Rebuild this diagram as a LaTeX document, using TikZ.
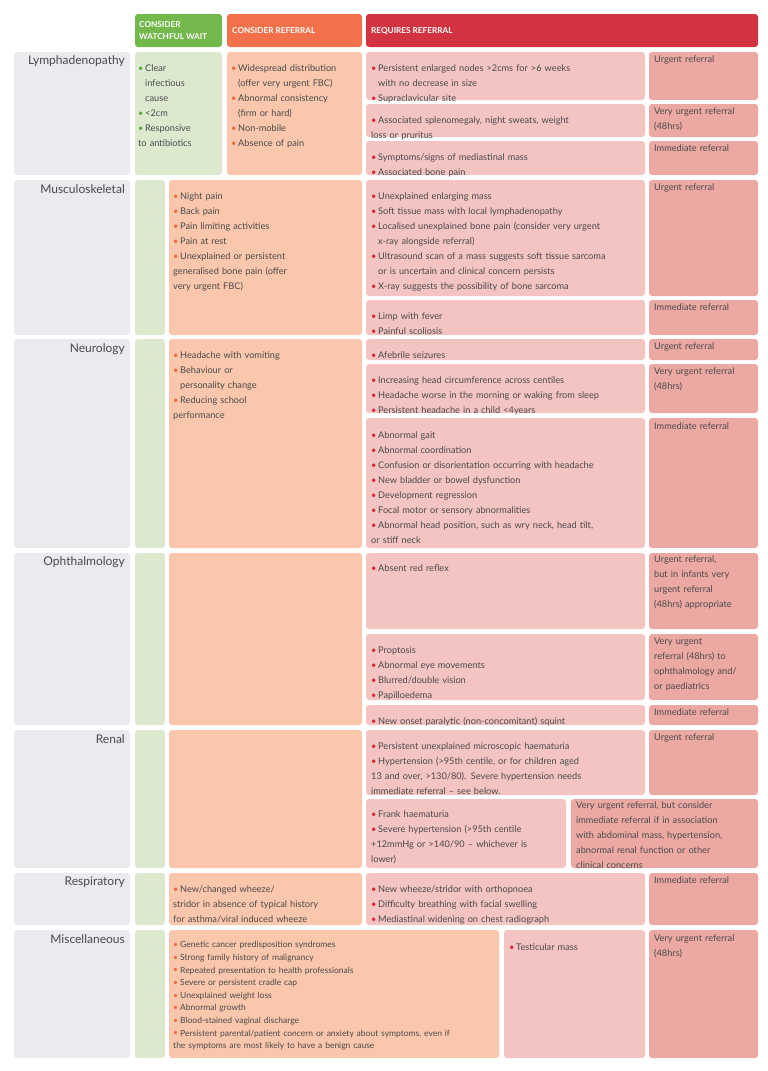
\documentclass[tikz,border=0pt]{standalone}
\usepackage{fontspec}
\setmainfont{Lato}
\definecolor{tx}{HTML}{4A4A4A}
\definecolor{lab}{HTML}{EAEAEF}
\definecolor{gh}{HTML}{72B84A}
\definecolor{gc}{HTML}{DCE9CF}
\definecolor{oh}{HTML}{F2714A}
\definecolor{oc}{HTML}{FAC6AC}
\definecolor{rh}{HTML}{D13440}
\definecolor{rc}{HTML}{F3C4C1}
\definecolor{rr}{HTML}{ECA9A3}
\definecolor{gd}{HTML}{5DAA3C}
\definecolor{od}{HTML}{EE6A3A}
\definecolor{rd}{HTML}{D4283A}
\newcommand\bul[2]{\par\hangindent=7pt\hangafter=1\noindent\makebox[7pt][l]{\textcolor{#1}{\raisebox{0.2pt}{\textbullet}}}#2}
\newcommand\cellbox[5]{\fill[#5,rounded corners=3pt] (#1,#2) rectangle (#3,#4);}
\tikzset{
 txt/.style={anchor=north west,inner sep=0pt,text width=300pt,align=left,text=tx,font=\fontsize{9.2}{15}\selectfont},
 lbl/.style={anchor=north east,inner sep=0pt,text=tx,font=\fontsize{12}{14}\selectfont},
 hdr/.style={anchor=west,inner sep=0pt,align=left,text=white,font=\bfseries\fontsize{8.2}{12}\selectfont},
}
\begin{document}
\begin{tikzpicture}[x=1pt,y=-1pt]
\useasboundingbox (0,0) rectangle (768,1071);
% headers
\cellbox{135}{14}{222}{47}{gh}
\cellbox{227}{14}{362}{47}{oh}
\cellbox{366}{14}{758}{47}{rh}
\node[hdr] (h1) at (139,31) {CONSIDER\\WATCHFUL WAIT};
\node[hdr] (h2) at (232,31) {CONSIDER REFERRAL};
\node[hdr] (h3) at (371,31) {REQUIRES REFERRAL};
% label column
\foreach \a/\b in {52/175,180/335,339/548,553/725,730/868,873/925,930/1058}{\cellbox{14}{\a}{130}{\b}{lab}}
\node[lbl] (l1) at (125,55) {Lymphadenopathy};
\node[lbl] (l2) at (125,184) {Musculoskeletal};
\node[lbl] (l3) at (125,343) {Neurology};
\node[lbl] (l4) at (125,556) {Ophthalmology};
\node[lbl] (l5) at (125,734) {Renal};
\node[lbl] (l6) at (125,877) {Respiratory};
\node[lbl] (l7) at (125,934) {Miscellaneous};
% green column
\cellbox{135}{52}{222}{175}{gc}
\foreach \a/\b in {180/335,339/548,553/725,730/868,873/925,930/1058}{\cellbox{135}{\a}{165}{\b}{gc}}
% orange column
\cellbox{227}{52}{362}{175}{oc}
\foreach \a/\b in {180/335,339/548,553/725,730/868,873/925}{\cellbox{169}{\a}{362}{\b}{oc}}
\cellbox{169}{930}{499}{1058}{oc}
% red cells
\foreach \a/\b in {52/100,104/137,141/175,180/296,300/335,339/360,364/413,418/548,553/629,634/700,705/725,730/795,873/925}{
 \cellbox{366}{\a}{645}{\b}{rc}\cellbox{649}{\a}{758}{\b}{rr}}
\cellbox{366}{799}{566}{868}{rc}
\cellbox{571}{799}{758}{868}{rr}
\cellbox{504}{930}{645}{1058}{rc}
\cellbox{649}{930}{758}{1058}{rr}
% lymph
\node[txt] (g1) at (138,56) {\bul{gd}{Clear\newline infectious\newline cause}\bul{gd}{<2cm}\bul{gd}{Responsive\newline to antibiotics}};
\node[txt] (o1) at (231,56) {\bul{od}{Widespread distribution\newline (offer very urgent FBC)}\bul{od}{Abnormal consistency\newline (firm or hard)}\bul{od}{Non-mobile}\bul{od}{Absence of pain}};
\node[txt] (r1a) at (371,56) {\bul{rd}{Persistent enlarged nodes >2cms for >6 weeks\newline with no decrease in size}\bul{rd}{Supraclavicular site}};
\node[txt] (r1b) at (371,108) {\bul{rd}{Associated splenomegaly, night sweats, weight\newline loss or pruritus}};
\node[txt] (r1c) at (371,145) {\bul{rd}{Symptoms/signs of mediastinal mass}\bul{rd}{Associated bone pain}};
\node[txt] (u1a) at (654,56) {Urgent referral};
\node[txt] (u1b) at (654,108) {Very urgent referral\newline (48hrs)};
\node[txt] (u1c) at (654,145) {Immediate referral};
% musculo
\node[txt] (o2) at (173,184) {\bul{od}{Night pain}\bul{od}{Back pain}\bul{od}{Pain limiting activities}\bul{od}{Pain at rest}\bul{od}{Unexplained or persistent\newline generalised bone pain (offer\newline very urgent FBC)}};
\node[txt] (r2a) at (371,184) {\bul{rd}{Unexplained enlarging mass}\bul{rd}{Soft tissue mass with local lymphadenopathy}\bul{rd}{Localised unexplained bone pain (consider very urgent\newline x-ray alongside referral)}\bul{rd}{Ultrasound scan of a mass suggests soft tissue sarcoma\newline or is uncertain and clinical concern persists}\bul{rd}{X-ray suggests the possibility of bone sarcoma}};
\node[txt] (r2b) at (371,304) {\bul{rd}{Limp with fever}\bul{rd}{Painful scoliosis}};
\node[txt] (u2a) at (654,184) {Urgent referral};
\node[txt] (u2b) at (654,304) {Immediate referral};
% neuro
\node[txt] (o3) at (173,343) {\bul{od}{Headache with vomiting}\bul{od}{Behaviour or\newline personality change}\bul{od}{Reducing school\newline performance}};
\node[txt] (r3a) at (371,343) {\bul{rd}{Afebrile seizures}};
\node[txt] (r3b) at (371,368) {\bul{rd}{Increasing head circumference across centiles}\bul{rd}{Headache worse in the morning or waking from sleep}\bul{rd}{Persistent headache in a child <4years}};
\node[txt] (r3c) at (371,423) {\bul{rd}{Abnormal gait}\bul{rd}{Abnormal coordination}\bul{rd}{Confusion or disorientation occurring with headache}\bul{rd}{New bladder or bowel dysfunction}\bul{rd}{Development regression}\bul{rd}{Focal motor or sensory abnormalities}\bul{rd}{Abnormal head position, such as wry neck, head tilt,\newline or stiff neck}};
\node[txt] (u3a) at (654,343) {Urgent referral};
\node[txt] (u3b) at (654,368) {Very urgent referral\newline (48hrs)};
\node[txt] (u3c) at (654,423) {Immediate referral};
% ophth
\node[txt] (r4a) at (371,556) {\bul{rd}{Absent red reflex}};
\node[txt] (r4b) at (371,638) {\bul{rd}{Proptosis}\bul{rd}{Abnormal eye movements}\bul{rd}{Blurred/double vision}\bul{rd}{Papilloedema}};
\node[txt] (r4c) at (371,709) {\bul{rd}{New onset paralytic (non-concomitant) squint}};
\node[txt] (u4a) at (654,556) {Urgent referral,\newline but in infants very\newline urgent referral\newline (48hrs) appropriate};
\node[txt] (u4b) at (654,638) {Very urgent\newline referral (48hrs) to\newline ophthalmology and/\newline or paediatrics};
\node[txt] (u4c) at (654,709) {Immediate referral};
% renal
\node[txt] (r5a) at (371,734) {\bul{rd}{Persistent unexplained microscopic haematuria}\bul{rd}{Hypertension (>95th centile, or for children aged\newline 13 and over, >130/80). Severe hypertension needs\newline immediate referral -- see below.}};
\node[txt] (r5b) at (371,802) {\bul{rd}{Frank haematuria}\bul{rd}{Severe hypertension (>95th centile}\par\noindent+12mmHg or >140/90 -- whichever is\newline lower)};
\node[txt] (u5a) at (654,734) {Urgent referral};
\node[txt] (u5b) at (576,802) {Very urgent referral, but consider\newline immediate referral if in association\newline with abdominal mass, hypertension,\newline abnormal renal function or other\newline clinical concerns};
% resp
\node[txt] (o6) at (173,877) {\bul{od}{New/changed wheeze/\newline stridor in absence of typical history\newline for asthma/viral induced wheeze}};
\node[txt] (r6) at (371,877) {\bul{rd}{New wheeze/stridor with orthopnoea}\bul{rd}{Difficulty breathing with facial swelling}\bul{rd}{Mediastinal widening on chest radiograph}};
\node[txt] (u6) at (654,877) {Immediate referral};
% misc
\node[txt,font=\fontsize{8.5}{12.6}\selectfont] (o7) at (173,935) {\bul{od}{Genetic cancer predisposition syndromes}\bul{od}{Strong family history of malignancy}\bul{od}{Repeated presentation to health professionals}\bul{od}{Severe or persistent cradle cap}\bul{od}{Unexplained weight loss}\bul{od}{Abnormal growth}\bul{od}{Blood-stained vaginal discharge}\bul{od}{Persistent parental/patient concern or anxiety about symptoms, even if\newline the symptoms are most likely to have a benign cause}};
\node[txt] (r7) at (509,935) {\bul{rd}{Testicular mass}};
\node[txt] (u7) at (654,935) {Very urgent referral\newline (48hrs)};
\end{tikzpicture}
\end{document}
